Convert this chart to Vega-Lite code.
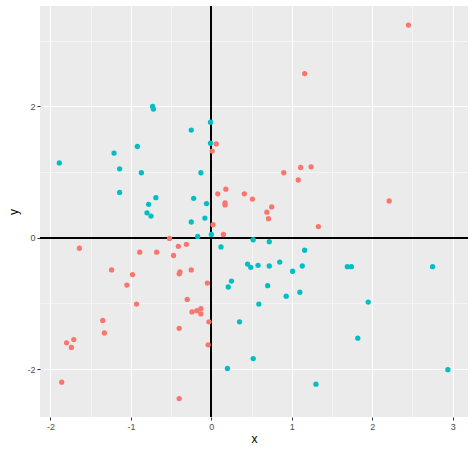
{
  "$schema": "https://vega.github.io/schema/vega-lite/v6.json",
  "width": 428,
  "height": 411,
  "autosize": {"type": "none"},
  "padding": {"left": 40, "top": 6, "right": 6, "bottom": 36},
  "background": "white",
  "config": {
    "font": "Liberation Sans",
    "view": {"fill": "#EBEBEB", "stroke": null},
    "axis": {
      "domain": false,
      "gridColor": "white",
      "tickColor": "#333333",
      "tickSize": 3,
      "labelColor": "#4D4D4D",
      "labelFontSize": 9,
      "labelPadding": 2,
      "titleColor": "black",
      "titleFontSize": 12,
      "titleFontWeight": "normal"
    }
  },
  "data": {
    "values": [
      {"x": -1.89, "y": 1.14, "g": "b"}, {"x": -0.73, "y": 2.0, "g": "b"}, {"x": -0.72, "y": 1.96, "g": "b"},
      {"x": -1.21, "y": 1.29, "g": "b"}, {"x": -0.92, "y": 1.39, "g": "b"}, {"x": -1.14, "y": 1.05, "g": "b"},
      {"x": -0.87, "y": 0.99, "g": "b"}, {"x": -1.14, "y": 0.69, "g": "b"}, {"x": -0.69, "y": 0.61, "g": "b"},
      {"x": -0.78, "y": 0.51, "g": "b"}, {"x": -0.8, "y": 0.38, "g": "b"}, {"x": -0.75, "y": 0.33, "g": "b"},
      {"x": -0.25, "y": 1.64, "g": "b"}, {"x": -0.01, "y": 1.76, "g": "b"}, {"x": -0.01, "y": 1.44, "g": "b"},
      {"x": -0.13, "y": 0.99, "g": "b"}, {"x": -0.22, "y": 0.6, "g": "b"}, {"x": -0.06, "y": 0.52, "g": "b"},
      {"x": -0.25, "y": 0.24, "g": "b"}, {"x": -0.08, "y": 0.3, "g": "b"}, {"x": 0.0, "y": 0.05, "g": "b"},
      {"x": -0.17, "y": 0.02, "g": "b"}, {"x": 0.12, "y": -0.14, "g": "b"}, {"x": 0.25, "y": -0.66, "g": "b"},
      {"x": 0.21, "y": -0.75, "g": "b"}, {"x": 0.2, "y": -1.99, "g": "b"}, {"x": 0.52, "y": -0.03, "g": "b"},
      {"x": 0.72, "y": -0.06, "g": "b"}, {"x": 1.16, "y": -0.19, "g": "b"}, {"x": 0.45, "y": -0.4, "g": "b"},
      {"x": 0.49, "y": -0.45, "g": "b"}, {"x": 0.58, "y": -0.42, "g": "b"}, {"x": 0.72, "y": -0.43, "g": "b"},
      {"x": 0.85, "y": -0.37, "g": "b"}, {"x": 1.01, "y": -0.51, "g": "b"}, {"x": 1.13, "y": -0.43, "g": "b"},
      {"x": 1.69, "y": -0.44, "g": "b"}, {"x": 1.74, "y": -0.44, "g": "b"}, {"x": 2.75, "y": -0.44, "g": "b"},
      {"x": 0.7, "y": -0.73, "g": "b"}, {"x": 1.1, "y": -0.83, "g": "b"}, {"x": 0.93, "y": -0.89, "g": "b"},
      {"x": 0.59, "y": -1.01, "g": "b"}, {"x": 1.95, "y": -0.98, "g": "b"}, {"x": 0.35, "y": -1.28, "g": "b"},
      {"x": 1.82, "y": -1.53, "g": "b"}, {"x": 0.52, "y": -1.84, "g": "b"}, {"x": 2.94, "y": -2.01, "g": "b"},
      {"x": 1.3, "y": -2.23, "g": "b"},
      {"x": 0.06, "y": 1.43, "g": "a"}, {"x": 0.01, "y": 1.32, "g": "a"}, {"x": 0.08, "y": 0.67, "g": "a"},
      {"x": 0.18, "y": 0.74, "g": "a"}, {"x": 0.17, "y": 0.53, "g": "a"}, {"x": 0.17, "y": 0.5, "g": "a"},
      {"x": 0.02, "y": 0.2, "g": "a"}, {"x": 0.15, "y": 0.05, "g": "a"}, {"x": -0.52, "y": -0.01, "g": "a"},
      {"x": 2.45, "y": 3.24, "g": "a"}, {"x": 1.16, "y": 2.5, "g": "a"}, {"x": 0.9, "y": 0.99, "g": "a"},
      {"x": 1.11, "y": 1.07, "g": "a"}, {"x": 1.24, "y": 1.08, "g": "a"}, {"x": 1.08, "y": 0.88, "g": "a"},
      {"x": 0.41, "y": 0.67, "g": "a"}, {"x": 0.51, "y": 0.59, "g": "a"}, {"x": 0.69, "y": 0.39, "g": "a"},
      {"x": 0.75, "y": 0.47, "g": "a"}, {"x": 0.71, "y": 0.29, "g": "a"}, {"x": 2.21, "y": 0.56, "g": "a"},
      {"x": 1.33, "y": 0.17, "g": "a"}, {"x": -1.64, "y": -0.16, "g": "a"}, {"x": -0.89, "y": -0.22, "g": "a"},
      {"x": -0.68, "y": -0.22, "g": "a"}, {"x": -0.47, "y": -0.27, "g": "a"}, {"x": -0.41, "y": -0.13, "g": "a"},
      {"x": -0.31, "y": -0.1, "g": "a"}, {"x": -1.24, "y": -0.49, "g": "a"}, {"x": -0.98, "y": -0.56, "g": "a"},
      {"x": -1.05, "y": -0.72, "g": "a"}, {"x": -0.93, "y": -1.01, "g": "a"}, {"x": -0.39, "y": -0.52, "g": "a"},
      {"x": -0.4, "y": -0.55, "g": "a"}, {"x": -0.25, "y": -0.49, "g": "a"}, {"x": -0.05, "y": -0.69, "g": "a"},
      {"x": -0.3, "y": -0.94, "g": "a"}, {"x": -0.24, "y": -1.13, "g": "a"}, {"x": -0.18, "y": -1.11, "g": "a"},
      {"x": -0.13, "y": -1.08, "g": "a"}, {"x": -0.13, "y": -1.16, "g": "a"}, {"x": -0.03, "y": -1.28, "g": "a"},
      {"x": -0.4, "y": -1.38, "g": "a"}, {"x": -0.04, "y": -1.63, "g": "a"}, {"x": -1.35, "y": -1.26, "g": "a"},
      {"x": -1.33, "y": -1.45, "g": "a"}, {"x": -1.71, "y": -1.55, "g": "a"}, {"x": -1.8, "y": -1.6, "g": "a"},
      {"x": -1.74, "y": -1.67, "g": "a"}, {"x": -1.86, "y": -2.2, "g": "a"}, {"x": -0.4, "y": -2.45, "g": "a"}
    ]
  },
  "encoding": {
    "x": {
      "field": "x",
      "type": "quantitative",
      "title": "x",
      "scale": {"domain": [-2.13, 3.19], "nice": false, "zero": false},
      "axis": {
        "values": [-2, -1.5, -1, -0.5, 0, 0.5, 1, 1.5, 2, 2.5, 3],
        "labelExpr": "datum.value % 1 === 0 ? '' + datum.value : ''",
        "gridWidth": {"condition": {"test": "datum.value % 1 !== 0", "value": 0.5}, "value": 1.1},
        "tickOpacity": {"condition": {"test": "datum.value % 1 !== 0", "value": 0}, "value": 1},
        "titlePadding": 2
      }
    },
    "y": {
      "field": "y",
      "type": "quantitative",
      "title": "y",
      "scale": {"domain": [-2.73, 3.53], "nice": false, "zero": false},
      "axis": {
        "values": [-2, -1, 0, 1, 2, 3],
        "labelExpr": "datum.value % 2 === 0 ? '' + datum.value : ''",
        "gridWidth": {"condition": {"test": "datum.value % 2 !== 0", "value": 0.5}, "value": 1.1},
        "tickOpacity": {"condition": {"test": "datum.value % 2 !== 0", "value": 0}, "value": 1},
        "titleAngle": -90,
        "titlePadding": 6
      }
    }
  },
  "layer": [
    {
      "mark": {"type": "rule", "color": "black", "strokeWidth": 1},
      "encoding": {"y": {"datum": 0}, "x": null}
    },
    {
      "mark": {"type": "rule", "color": "black", "strokeWidth": 1},
      "encoding": {"x": {"datum": 0}, "y": null}
    },
    {
      "mark": {"type": "circle", "size": 28, "opacity": 1},
      "encoding": {
        "color": {
          "field": "g",
          "type": "nominal",
          "scale": {"domain": ["a", "b"], "range": ["#F8766D", "#00BFC4"]},
          "legend": null
        }
      }
    }
  ]
}
